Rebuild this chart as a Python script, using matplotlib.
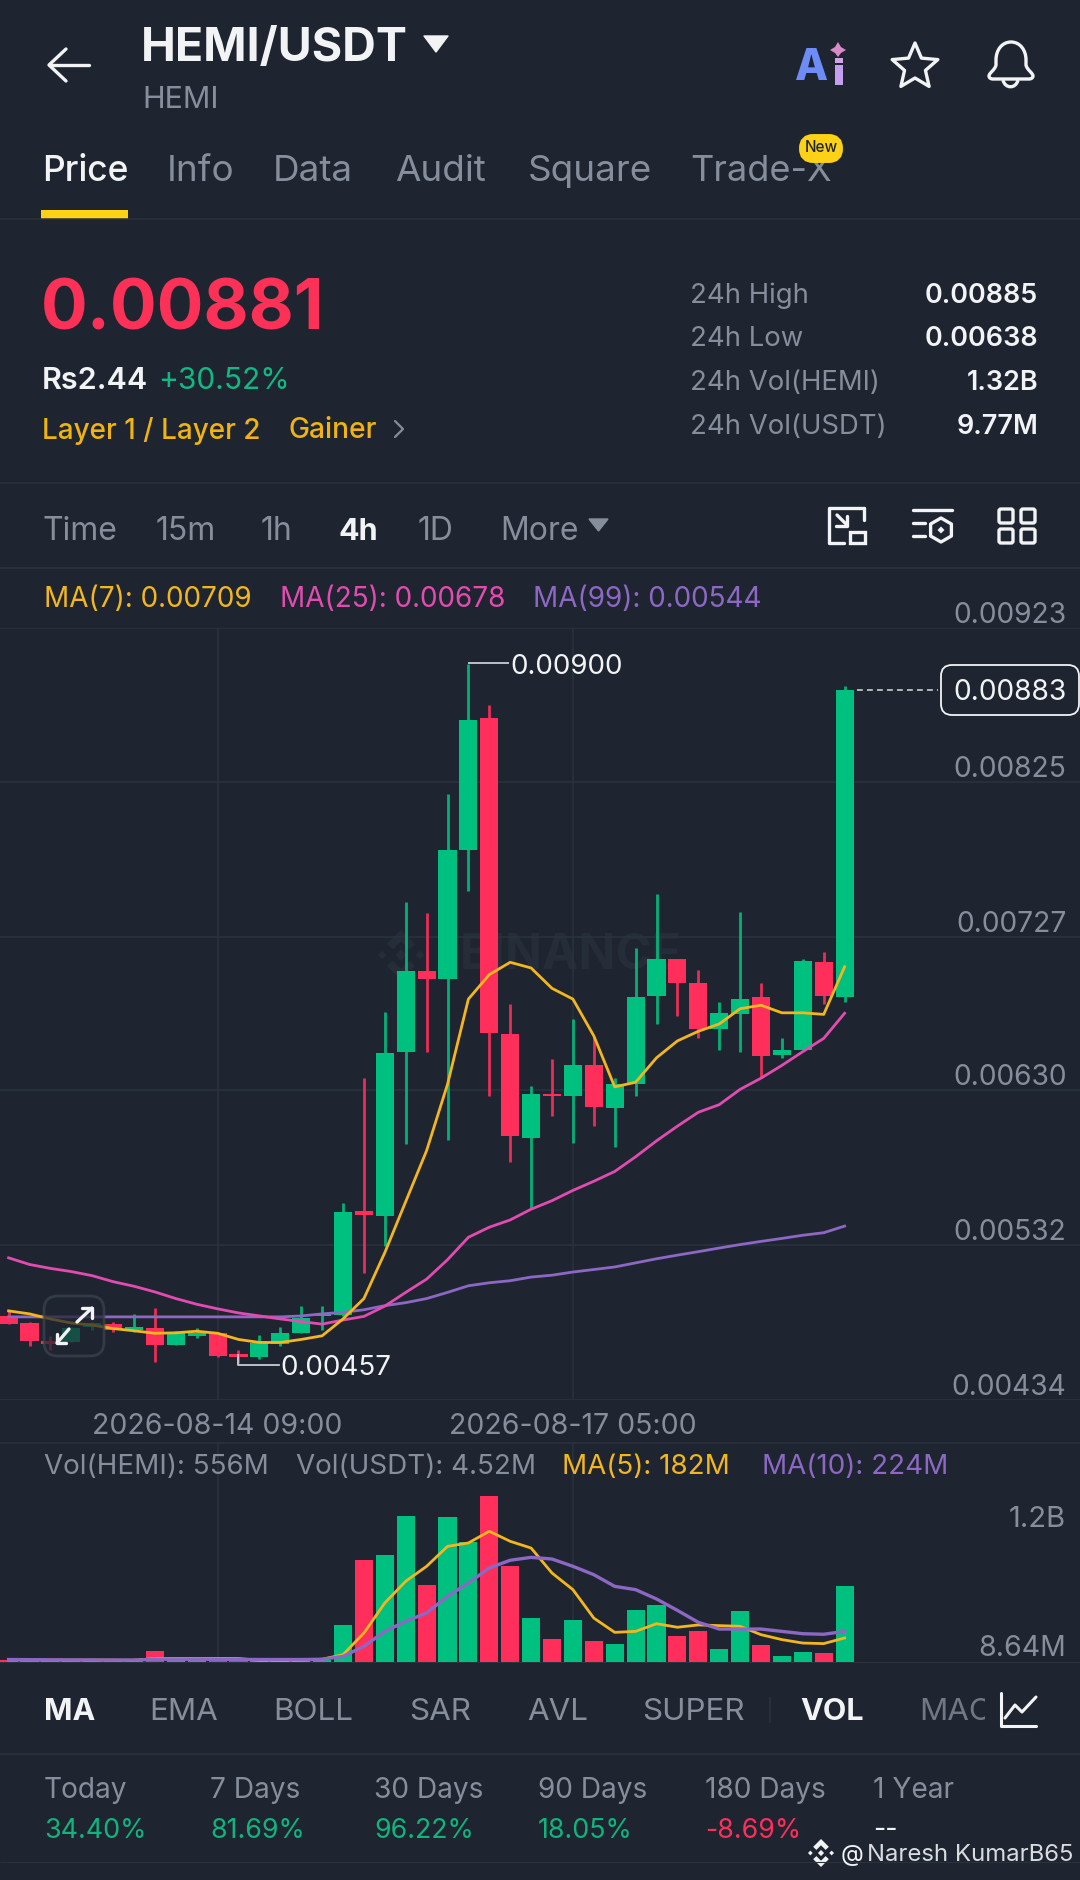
import numpy as np
import matplotlib
matplotlib.use("Agg")
import matplotlib.pyplot as plt
from matplotlib.patches import FancyBboxPatch, Polygon, Rectangle, PathPatch
from matplotlib.path import Path
from matplotlib.transforms import ScaledTranslation

plt.rcParams['font.family'] = ['Inter', 'Noto Sans', 'DejaVu Sans']

# ---------- data (prices in units of 1e-5 USDT) ----------
OPEN = [486.7,482.8,470.5,470.5,480.2,481.8,478.0,479.6,468.9,474.1,476.0,462.4,460.8,469.5,476.3,487.0,
        487.7,553.3,550.4,654.4,705.8,700.6,782.1,865.5,665.7,599.5,627.3,626.6,645.7,618.9,633.7,689.6,
        712.9,698.1,668.6,678.3,688.7,652.5,655.7,711.0,688.7]
HIGH = [489.9,483.4,474.4,480.2,483.4,483.1,488.3,492.2,477.6,479.6,476.7,465.7,474.7,480.2,493.2,493.2,
        558.4,637.6,679.6,749.1,742.0,817.3,900.0,874.2,684.8,632.8,649.9,674.8,663.5,637.9,720.0,754.3,
        712.9,706.1,685.8,743.0,697.7,662.8,712.9,717.8,885.8]
LOW = [481.8,467.9,465.7,470.5,478.0,477.0,477.0,458.0,468.9,473.1,461.2,457.0,459.5,468.2,476.0,478.0,
       486.7,514.1,531.0,595.6,654.4,598.2,755.9,626.6,584.6,554.6,613.7,596.6,607.2,594.3,626.6,671.9,
       677.0,662.8,655.4,654.4,637.9,650.5,655.4,684.8,686.1]
CLOSE = [481.8,471.2,469.5,479.2,482.5,478.0,480.2,468.9,476.0,476.0,461.8,461.2,469.9,476.0,485.7,488.3,
         552.6,550.7,653.8,705.8,700.6,782.1,864.5,666.0,600.8,627.3,626.0,645.7,619.5,633.7,688.7,712.9,
         698.1,668.6,678.7,687.7,651.5,655.4,712.0,689.6,883.6]
MA7 = [490.2,488.3,485.1,482.5,481.2,479.0,477.6,476.0,476.3,477.3,476.0,472.1,470.2,470.2,472.1,474.4,
       485.1,498.0,527.1,559.4,591.7,633.7,687.7,703.2,711.0,707.4,694.5,687.7,664.4,632.1,635.0,650.5,
       661.2,667.3,671.9,681.6,683.8,679.0,679.0,678.0,708.1]
MA25 = [523.8,519.6,517.1,515.1,512.5,508.7,505.8,502.2,498.0,494.4,491.5,488.9,487.0,485.1,483.4,481.8,
        484.4,486.7,493.2,501.9,510.3,522.6,536.8,543.2,547.8,554.6,560.0,566.5,572.3,578.5,587.8,597.9,
        607.2,616.0,620.8,630.5,637.6,645.7,654.4,662.8,678.7]
MA99 = [486.4,486.4,486.4,486.4,486.4,486.4,486.4,486.4,486.4,486.4,486.4,486.4,486.4,486.4,487.0,488.3,
        489.3,490.9,493.5,495.4,498.0,501.9,506.1,508.0,509.3,511.6,512.8,514.8,516.4,518.0,520.6,523.2,
        525.5,527.7,530.0,532.2,534.2,536.1,538.1,539.7,543.9]
# volumes in millions
VOL = [17,14,12,15,14,12,12,83,14,12,12,12,12,12,14,17,
       272,745,782,1066,563,1054,872,1212,697,320,170,306,153,131,381,415,
       187,228,97,369,126,46,75,66,556]
VOL_MA5 = [15,15,14,14,14,14,13,25,25,25,25,25,12,12,13,20,
           53,211,430,588,697,842,867,952,879,830,648,527,320,216,223,279,
           253,270,265,260,199,163,138,134,175]
VOL_MA10 = [18,17,16,15,15,14,14,20,20,20,19,19,18,18,18,20,
            41,114,223,296,357,478,575,685,741,762,750,697,636,551,527,459,
            376,289,240,240,240,223,206,202,223]
PRICE_TICKS = [0.00923, 0.00825, 0.00727, 0.00630, 0.00532, 0.00434]
PRICE_TICK_LABELS = ['0.00923', '0.00825', '0.00727', '0.00630', '0.00532', '0.00434']
DATE_TICKS = [10, 27]
DATE_LABELS = ['2026-08-14 09:00', '2026-08-17 05:00']
TABS = ['Price', 'Info', 'Data', 'Audit', 'Square', 'Trade-X']
STAT_LABELS = ['24h High', '24h Low', '24h Vol(HEMI)', '24h Vol(USDT)']
STAT_VALUES = ['0.00885', '0.00638', '1.32B', '9.77M']
INTERVALS = ['Time', '15m', '1h', '4h', '1D', 'More']
INDICATORS = ['MA', 'EMA', 'BOLL', 'SAR', 'AVL', 'SUPER', 'VOL', 'MAC']
PERIODS = ['Today', '7 Days', '30 Days', '90 Days', '180 Days', '1 Year']
PERIOD_VALUES = ['34.40%', '81.69%', '96.22%', '18.05%', '-8.69%', '--']

# ---------- style ----------
BG = '#1E2530'
GRID = '#2B333F'
GREEN = '#00C07F'
RED = '#FF2E5B'
GRAY = '#868E9B'
WHITE = '#F2F3F5'
YEL = '#F3B61F'
PINK = '#E24CB0'
PURP = '#8C68C4'
FAINT = '#252D39'
W, H = 1080, 1880

fig = plt.figure(figsize=(W/100, H/100), dpi=100, facecolor=BG)

def axes_px(top, bottom):
    return fig.add_axes([0, 1-bottom/H, 1, (bottom-top)/H], facecolor='none')

def scale(a):
    return np.array(a, float) * 1e-5

idx = np.arange(len(OPEN))
XLIM = ((0-8.6)/20.9, (W-8.6)/20.9)

# ---------- UI layer beneath the chart (watermark) ----------
under = fig.add_axes([0, 0, 1, 1], facecolor='none')
under.set_xlim(0, W); under.set_ylim(H, 0); under.axis('off')

def logo(target, cx, cy, s, color, **k):
    def diamond(x, y, r):
        target.add_patch(Polygon([[x, y-r], [x+r, y], [x, y+r], [x-r, y]], closed=True, fc=color, ec='none', **k))
    diamond(cx, cy, .22*s); diamond(cx-.76*s, cy, .17*s); diamond(cx+.76*s, cy, .17*s)
    for sg in (1, -1):
        target.add_patch(Polygon([[cx, cy-sg*s], [cx+.56*s, cy-sg*.44*s], [cx+.33*s, cy-sg*.22*s], [cx, cy-sg*.55*s],
                                  [cx-.33*s, cy-sg*.22*s], [cx-.56*s, cy-sg*.44*s]], closed=True, fc=color, ec='none', **k))

logo(under, 401, 955, 25, FAINT)
under.text(460, 956, 'BINANCE', fontsize=35, color=FAINT, fontweight='bold', ha='left', va='center')

# ---------- price panel ----------
ax = axes_px(627.6, 1399.6)
ax.set_xlim(*XLIM)
ax.set_ylim(0.00434, 0.00923)
for s in ax.spines.values():
    s.set_visible(False)
ax.set_yticks(PRICE_TICKS)
ax.set_yticklabels(PRICE_TICK_LABELS)
ax.yaxis.tick_right()
ax.tick_params(axis='y', length=0, pad=-9.8, labelcolor=GRAY, labelsize=20.3)
down = ScaledTranslation(0, -0.7/72, fig.dpi_scale_trans)
for l in ax.get_yticklabels():
    l.set_ha('right'); l.set_va('bottom'); l.set_transform(l.get_transform() + down)
ax.set_xticks(DATE_TICKS)
ax.set_xticklabels(DATE_LABELS)
ax.tick_params(axis='x', length=0, pad=10, labelcolor=GRAY, labelsize=20.5)
ax.grid(True, color=GRID, lw=1.1)
ax.set_axisbelow(True)

o, h, l, c = scale(OPEN), scale(HIGH), scale(LOW), scale(CLOSE)
colors = [GREEN if cc >= oo else RED for oo, cc in zip(o, c)]
ax.vlines(idx, l, h, colors=colors, lw=2.0, zorder=3, alpha=0.9)
ax.bar(idx, np.maximum(np.abs(c-o), 1.5e-5), bottom=np.minimum(o, c), width=0.87, color=colors, zorder=4)
ax.plot(idx, scale(MA99), color=PURP, lw=2.0, zorder=5)
ax.plot(idx, scale(MA25), color=PINK, lw=2.0, zorder=6)
ax.plot(idx, scale(MA7), color=YEL, lw=2.0, zorder=7)

# ---------- volume panel ----------
ax2 = axes_px(1443, 1662)
ax2.set_xlim(*XLIM)
ax2.set_ylim(0, 1595)
for s in ('top', 'left', 'right'):
    ax2.spines[s].set_visible(False)
ax2.spines['bottom'].set_color(GRID)
ax2.set_yticks([])
ax2.set_xticks(DATE_TICKS)
ax2.set_xticklabels([])
ax2.tick_params(axis='x', length=0)
ax2.grid(True, axis='x', color=GRID, lw=1.1)
ax2.set_axisbelow(True)
ax2.bar(idx, VOL, width=0.87, color=colors, zorder=3)
ax2.plot(idx, VOL_MA5, color=YEL, lw=2.0, zorder=4)
ax2.plot(idx, VOL_MA10, color=PURP, lw=2.4, zorder=5)

# ---------- UI overlay in pixel coordinates ----------
ui = fig.add_axes([0, 0, 1, 1], facecolor='none')
ui.set_xlim(0, W); ui.set_ylim(H, 0); ui.axis('off')

def t(x, y, s, size=19, color=GRAY, weight='normal', ha='left', va='center', **k):
    return ui.text(x, y+3, s, fontsize=size, color=color, fontweight=weight, ha=ha, va=va, **k)

def hline(y, x0=0, x1=W, color=GRID, lw=1.1):
    ui.plot([x0, x1], [y, y], color=color, lw=lw, solid_capstyle='butt')

def stroke(xs, ys, color=WHITE, lw=2.4, **k):
    ui.plot(xs, ys, color=color, lw=lw, solid_capstyle='round', solid_joinstyle='round', **k)

# header
stroke([50, 89], [65, 65]); stroke([66, 49, 66], [49, 65, 81])
t(141, 46, 'HEMI/USDT', 33.5, WHITE, 'bold')
ui.add_patch(Polygon([[424, 36], [448, 36], [436, 52]], closed=True, fc=WHITE, ec=WHITE, lw=1, joinstyle='round'))
t(142, 97, 'HEMI', 22, GRAY)
t(794, 66, 'A', 31, '#6D8CF6', 'heavy')
ui.add_patch(Rectangle((835, 65), 8, 20, fc='#C49FF0', ec='none'))
ui.add_patch(Rectangle((835, 58), 8, 5, fc='#D0A4E8', ec='none'))
ui.add_patch(Polygon([[838, 42], [841, 47], [846, 50], [841, 53], [838, 57], [835, 53], [830, 50], [835, 47]],
                     closed=True, fc='#D98BC8', ec='none'))
ang = np.deg2rad(np.arange(0, 360, 36) - 90)
rad = np.where(np.arange(10) % 2 == 0, 24, 11)
ui.add_patch(Polygon(np.c_[915+rad*np.cos(ang), 67+rad*np.sin(ang)], closed=True, fc='none', ec=WHITE, lw=2.4, joinstyle='round'))
M, L, C, Z = Path.MOVETO, Path.LINETO, Path.CURVE4, Path.CLOSEPOLY
bell = Path([(1011, 42), (1020, 42), (1026, 50), (1026, 60), (1026, 65), (1027, 70), (1033, 73), (1033, 76),
             (1033, 78), (1031, 79), (1029, 79), (993, 79), (991, 79), (989, 78), (989, 76), (989, 73), (995, 70),
             (996, 65), (996, 60), (996, 50), (1002, 42), (1011, 42), (1011, 42)],
            [M, C, C, C, L, C, C, C, C, C, C, L, C, C, C, C, C, C, L, C, C, C, Z])
ui.add_patch(PathPatch(bell, fc='none', ec=WHITE, lw=2.4, joinstyle='round'))
ui.add_patch(PathPatch(Path([(1003, 80), (1005, 89), (1016, 89), (1018, 80)], [M, C, C, C]), fc='none', ec=WHITE, lw=2.4))

# tabs
for x, s, col, sz in zip([42, 167, 273, 395, 528, 690], TABS, [WHITE]+[GRAY]*5, [25.5, 26.5, 26.5, 26.5, 26.5, 26]):
    t(x, 168.5, s, sz, col, 'medium' if col == WHITE else 'normal')
hline(219)
ui.add_patch(Rectangle((41, 210), 87, 9, fc='#FCD116', ec='none'))
ui.add_patch(FancyBboxPatch((806, 141), 30, 15, boxstyle='round,pad=0,rounding_size=7', mutation_scale=1, fc='#FCD116', ec='#FCD116', lw=10, zorder=5))
t(821, 145, 'New', 11, '#1E2530', 'medium', ha='center', zorder=6)

# price block
t(41, 308, '0.00881', 50, '#FB3158', 'bold')
t(42, 378, 'Rs2.44', 22, WHITE, 'semibold')
t(158, 378, '+30.52%', 21.5, '#10B981')
t(42, 428, 'Layer 1 / Layer 2', 20.1, '#F0B310', 'medium')
t(288, 428, 'Gainer', 20.3, '#F0B310', 'medium')
stroke([395, 403, 395], [421, 429, 437], color=GRAY, lw=1.6)
for y, a, b in zip([293, 336, 380, 424], STAT_LABELS, STAT_VALUES):
    t(690, y, a, 19.8, GRAY)
    t(1038, y, b, 19.4, WHITE, 'semibold', ha='right')
hline(483); hline(568)

# interval row
for x, s in zip([42, 156, 261, 338, 418, 500], INTERVALS):
    on = s == '4h'
    t(x, 528.5, s, 22 if on else 23, WHITE if on else GRAY, 'bold' if on else 'normal')
ui.add_patch(Polygon([[589, 519], [608, 519], [598.5, 531]], closed=True, fc=GRAY, ec=GRAY, lw=1))
# icons
stroke([864, 864], [520, 508], lw=2.4); stroke([864, 829, 829, 844], [508, 508, 543, 543], lw=2.4)
ui.add_patch(Rectangle((850, 532), 15, 11, fc='none', ec=WHITE, lw=2.4))
stroke([837, 847], [515, 525], lw=2.4); stroke([836, 847, 847], [526, 526, 516], lw=2.4)
stroke([913, 952], [510, 510]); stroke([913, 925], [523, 523]); stroke([913, 925], [536, 536])
hexa = np.arange(6)*np.pi/3 + np.pi/6
ui.add_patch(Polygon(np.c_[941+12*np.cos(hexa), 530+12*np.sin(hexa)], closed=True, fc='none', ec=WHITE, lw=2.4, joinstyle='round'))
ui.add_patch(Polygon([[941, 526.5], [944.5, 530], [941, 533.5], [937.5, 530]], closed=True, fc=WHITE, ec='none'))
for xx in (999, 1021):
    for yy in (509, 529):
        ui.add_patch(FancyBboxPatch((xx, yy), 14, 14, boxstyle='round,pad=0,rounding_size=2', fc='none', ec=WHITE, lw=2.4))

# MA legend
t(44, 596.5, 'MA(7): 0.00709', 20.1, YEL)
t(280, 596.5, 'MA(25): 0.00678', 20.1, PINK)
t(533, 596.5, 'MA(99): 0.00544', 20.1, PURP)

# annotation for high / low / last
hline(663, 468, 509, color='#C9CDD3', lw=1.3)
t(510, 664, '0.00900', 20, WHITE)
ui.plot([238, 238, 279], [1355, 1365, 1365], color='#C9CDD3', lw=1.3)
t(280, 1365, '0.00457', 20, WHITE)
ui.plot([857, 938], [690, 690], color='#C9CDD3', lw=1.2, ls=(0, (3.5, 2.5)))
ui.add_patch(FancyBboxPatch((941, 665), 138, 50, boxstyle='round,pad=0,rounding_size=11', fc=BG, ec=WHITE, lw=1.3))
t(1010, 690, '0.00883', 20.3, WHITE, ha='center')

# expand button
ui.add_patch(FancyBboxPatch((44, 1296), 60, 60, boxstyle='round,pad=0,rounding_size=14', fc=BG, ec='#3C4450', lw=2, alpha=0.72, zorder=8))
stroke([77, 92], [1322, 1308], zorder=9); stroke([82, 92, 92], [1308, 1308, 1318], zorder=9)
stroke([69, 57], [1329, 1343], zorder=9); stroke([57, 57, 66], [1334, 1343, 1343], zorder=9)

# volume row
hline(1443)
t(44, 1463.5, 'Vol(HEMI): 556M', 20, GRAY)
t(296, 1463.5, 'Vol(USDT): 4.52M', 20, GRAY)
t(562, 1463.5, 'MA(5): 182M', 20, YEL)
t(762, 1463.5, 'MA(10): 224M', 20, PURP)
t(1066, 1516.5, '1.2B', 21, GRAY, ha='right')
t(1066, 1645.5, '8.64M', 20.5, GRAY, ha='right')

# indicator row
for x, s in zip([44, 149, 273, 409, 527, 642, 800, 919], INDICATORS):
    on = s in ('MA', 'VOL')
    t(x, 1709.5, s, 22 if on else 22.6, WHITE if on else GRAY, 'bold' if on else 'normal', alpha=0.8 if s == 'MAC' else 1)
ui.plot([770, 770], [1698, 1722], color=GRID, lw=1.2)
ui.add_patch(Rectangle((985, 1680), 60, 60, fc=BG, ec='none', zorder=6))
stroke([1001, 1001, 1036], [1693, 1726, 1726], zorder=7, lw=2.2)
stroke([1005, 1015, 1022, 1036], [1718, 1705, 1712, 1697], zorder=7, lw=2.2)
hline(1754)

# returns
for x, a, b in zip([44, 210, 374, 538, 705, 873], PERIODS, PERIOD_VALUES):
    t(x, 1787.5, a, 20.2, GRAY)
    col = RED if b.startswith('-') and b != '--' else (WHITE if b == '--' else '#0FB57D')
    t(x, 1827.5, b, 19.3, col)

# attribution
hline(1862, color='#2A323D', lw=0.8)
logo(ui, 821, 1853, 14, WHITE)
t(841, 1852, '@', 17, WHITE)
t(867, 1852, 'Naresh KumarB65', 17.2, '#D9DBDF')

fig.savefig('out.png', dpi=100, facecolor=BG)
